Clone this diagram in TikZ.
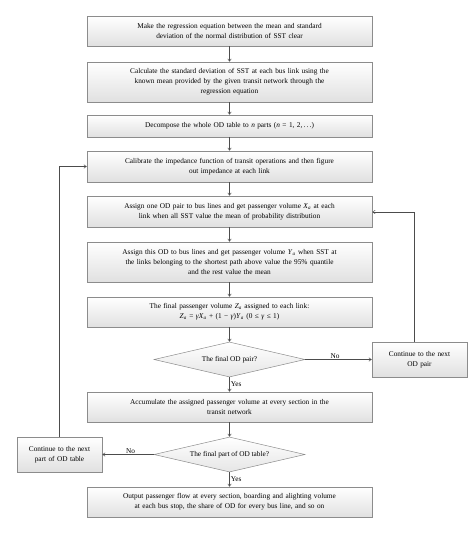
\documentclass[tikz,border=0pt]{standalone}
\usepackage{fontspec}
\setmainfont{Liberation Serif}
\usetikzlibrary{shapes.geometric,arrows.meta}
\newcommand{\myvar}[1]{\textit{#1}\textsubscript{\textit{a}}}
\begin{document}
\begin{tikzpicture}[x=1pt,y=-1pt,
  font=\fontsize{7.3}{10}\selectfont,
  box/.style={draw=black!45, line width=0.5pt, top color=white, bottom color=black!12,
    rectangle, align=center, inner sep=0pt, minimum width=285, text width=282},
  sidebox/.style={box, minimum width=95, text width=90},
  decision/.style={draw=black!45, line width=0.5pt, top color=white, bottom color=black!10,
    diamond, aspect=4.3, inner sep=0pt, minimum width=151, minimum height=35, align=center},
  conn/.style={draw=black!70, line width=0.5pt, -{Straight Barb[length=2.5pt,width=3.5pt]}},
  lbl/.style={font=\fontsize{7.3}{9}\selectfont, inner sep=1pt}
]
\useasboundingbox (0,0) rectangle (474,534);
\node[box, minimum height=30] (b1) at (229.5,31) {Make the regression equation between the mean and standard\\deviation of the normal distribution of SST clear};
\node[box, minimum height=40] (b2) at (229.5,82) {Calculate the standard deviation of SST at each bus link using the\\known mean provided by the given transit network through the\\regression equation};
\node[box, minimum height=22] (b3) at (229.5,126) {Decompose the whole OD table to \textit{n} parts (\textit{n} = 1, 2,\,.\,.\,.)};
\node[box, minimum height=31] (b4) at (229.5,166.5) {Calibrate the impedance function of transit operations and then figure\\out impedance at each link};
\node[box, minimum height=31] (b5) at (229.5,211.5) {Assign one OD pair to bus lines and get passenger volume \myvar{X} at each\\link when all SST value the mean of probability distribution};
\node[box, minimum height=40] (b6) at (229.5,262) {Assign this OD to bus lines and get passenger volume \myvar{Y} when SST at\\the links belonging to the shortest path above value the 95\% quantile\\and the rest value the mean};
\node[box, minimum height=30] (b7) at (229.5,312) {The final passenger volume \myvar{Z} assigned to each link:\\\myvar{Z} = \textit{γ}\myvar{X} + (1 − \textit{γ})\myvar{Y} (0 ≤ \textit{γ} ≤ 1)};
\node[decision] (d1) at (229.5,359.5) {The final OD pair?};
\node[sidebox, minimum height=35] (r1) at (419.5,359.5) {Continue to the next\\OD pair};
\node[box, minimum height=30] (b8) at (229.5,407) {Accumulate the assigned passenger volume at every section in the\\transit network};
\node[decision] (d2) at (229.5,454.5) {The final part of OD table?};
\node[sidebox, minimum width=85, text width=82, minimum height=35] (l1) at (59.5,454.5) {Continue to the next\\part of OD table};
\node[box, minimum height=30] (b9) at (229.5,502) {Output passenger flow at every section, boarding and alighting volume\\at each bus stop, the share of OD for every bus line, and so on};

\draw[conn] (b1) -- (b2);
\draw[conn] (b2) -- (b3);
\draw[conn] (b3) -- (b4);
\draw[conn] (b4) -- (b5);
\draw[conn] (b5) -- (b6);
\draw[conn] (b6) -- (b7);
\draw[conn] (b7) -- (d1);
\draw[conn] (d1) -- node[lbl, right, pos=0.45] {Yes} (b8);
\draw[conn] (b8) -- (d2);
\draw[conn] (d2) -- node[lbl, right, pos=0.45] {Yes} (b9);
\draw[conn] (d1.east) -- node[lbl, above, pos=0.45] {No} (r1.west);
\draw[conn] (d2.west) -- node[lbl, above, pos=0.45] {No} (l1.east);
\coordinate (rc) at (414,212);
\draw[conn] (r1.north -| rc) -- (rc) -- (b5.east |- rc);
\coordinate (lc) at (59,166.5);
\draw[conn] (l1.north -| lc) -- (lc) -- (b4.west |- lc);
\end{tikzpicture}
\end{document}
